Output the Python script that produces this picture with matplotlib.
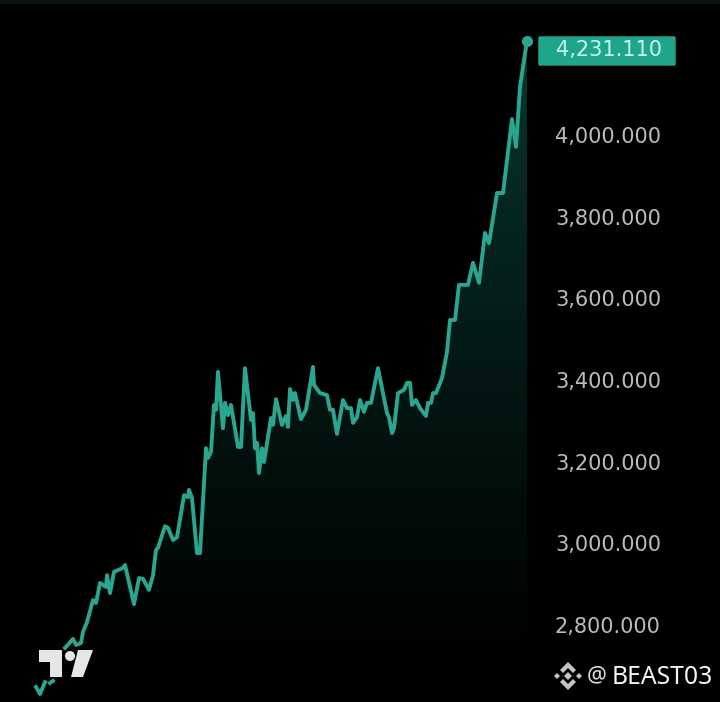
import numpy as np
import matplotlib
matplotlib.use("Agg")
import matplotlib.pyplot as plt
from matplotlib.patches import FancyBboxPatch, Polygon, Ellipse, Rectangle

nan = float("nan")

bars = [36, 40, 45, 47, 50, 53, 58, 65, 67, 73, 76, 81, 83, 87, 93, 96, 100, 106, 107, 110,
        114, 123, 125, 134, 139, 143, 149, 153, 156, 158, 165, 168, 173, 177, 184, 188, 189, 192,
        197, 200, 206, 208, 211, 214, 216, 218, 223, 225, 228, 231, 238, 241, 245, 251, 253, 255,
        257, 259, 262, 264, 271, 273, 276, 282, 286, 288, 290, 293, 295, 301, 306, 313, 314, 320,
        327, 330, 333, 337, 343, 347, 351, 353, 357, 360, 364, 367, 371, 378, 387, 389, 392, 394,
        398, 404, 407, 410, 412, 416, 420, 426, 428, 431, 433, 436, 442, 447, 450, 455, 459, 468,
        473, 479, 485, 489, 497, 503, 512, 516, 520, 527]
prices = [2648, 2631, 2660, nan, 2658, 2663, nan, 2744, 2749, 2766, 2751, 2756, 2783, 2807, 2861, 2854, 2903, 2893, 2922, 2878,
          2930, 2940, 2947, 2851, 2915, 2913, 2886, 2922, 2984, 2989, 3042, 3038, 3008, 3015, 3118, 3113, 3131, 3111,
          2976, 2976, 3233, 3209, 3224, 3339, 3327, 3420, 3282, 3344, 3314, 3339, 3236, 3236, 3429, 3302, 3319, 3233,
          3246, 3172, 3233, 3199, 3307, 3290, 3353, 3290, 3312, 3285, 3378, 3351, 3368, 3304, 3327, 3432, 3388, 3368,
          3363, 3327, 3327, 3268, 3351, 3331, 3331, 3295, 3309, 3351, 3322, 3344, 3344, 3429, 3319, 3309, 3270, 3282,
          3368, 3376, 3393, 3393, 3339, 3351, 3331, 3312, 3344, 3344, 3368, 3368, 3405, 3469, 3547, 3547, 3633, 3633,
          3687, 3638, 3760, 3735, 3858, 3858, 4039, 3971, 4118, 4231.11]
y_ticks = [2800, 3000, 3200, 3400, 3600, 3800, 4000]
y_tick_labels = ["2,800.000", "3,000.000", "3,200.000", "3,400.000", "3,600.000", "3,800.000", "4,000.000"]
last_label = "4,231.110"

W, H = 720, 702
LINE = "#2aa690"

fig = plt.figure(figsize=(W / 100, H / 100), dpi=100, facecolor="black")
ax = fig.add_axes([0, 0, 548 / W, 1], facecolor="black")
ax.set_xlim(0, 548)
ax.set_ylim(2611.4, 4330.6)

x = np.array(bars, dtype=float)
y = np.array(prices, dtype=float)

# gradient under the line, clipped to the area
rows = 256
grad = np.zeros((rows, 1, 4))
grad[:, 0, 0] = 0.10
grad[:, 0, 1] = 0.72
grad[:, 0, 2] = 0.60
grad[:, 0, 3] = np.linspace(0.36, 0.0, rows) ** 1.2 * 1.1
img = ax.imshow(grad, extent=[0, 548, 2611.4, 4330.6], aspect="auto", origin="upper", zorder=1)
ok = ~np.isnan(y)
clip = Polygon(np.r_[np.c_[x[ok], y[ok]], [[x[-1], 2611.4], [x[ok][0], 2611.4]]], transform=ax.transData)
img.set_clip_path(clip)

ax.plot(x, y, color=LINE, lw=2.8, solid_joinstyle="round", zorder=3)
ax.plot(x[-1], y[-1], "o", color=LINE, ms=8, mew=0, zorder=4)

ax.yaxis.tick_right()
ax.set_yticks(y_ticks)
ax.set_yticklabels(y_tick_labels, color="#bcbcbc", fontsize=15, family="DejaVu Sans")
ax.tick_params(axis="y", length=0, pad=5)
ax.set_xticks([])
for s in ax.spines.values():
    s.set_visible(False)


def fx(px):
    return px / W


def fy(py):
    return 1 - py / H


def px_poly(pts, color):
    fig.add_artist(Polygon([(fx(a), fy(b)) for a, b in pts], closed=True, color=color, lw=0, zorder=6))


# cropped strip at the top edge
fig.add_artist(Rectangle((0, fy(4)), 1, 4 / H, color="#071312", lw=0, zorder=5))

# last price label
fig.add_artist(FancyBboxPatch((fx(539), fy(65)), 136 / W, 28 / H, boxstyle="round,pad=0.001,rounding_size=0.002",
                              fc="#1fa58a", ec="none", zorder=6))
fig.text(fx(556), fy(50.5), last_label, color="#c8f6ea", fontsize=15, family="DejaVu Sans", va="center", ha="left", zorder=7)

# tradingview mark
LOGO = "#e6e6e6"
px_poly([(39, 650), (62, 650), (62, 677), (50, 677), (50, 662), (39, 662)], LOGO)
px_poly([(78, 650), (93, 650), (83, 677), (71, 677)], LOGO)
fig.add_artist(Ellipse((fx(70), fy(656)), 10 / W, 10 / H, color=LOGO, lw=0, zorder=6))

# binance mark and handle
MARK = "#c4c4c4"
cx, cy = 568, 676
px_poly([(cx, cy - 4), (cx + 4, cy), (cx, cy + 4), (cx - 4, cy)], MARK)
px_poly([(cx - 11, cy - 3), (cx - 8, cy), (cx - 11, cy + 3), (cx - 14, cy)], MARK)
px_poly([(cx + 11, cy - 3), (cx + 14, cy), (cx + 11, cy + 3), (cx + 8, cy)], MARK)
px_poly([(cx, cy - 14), (cx + 8, cy - 6), (cx + 5, cy - 3), (cx, cy - 8), (cx - 5, cy - 3), (cx - 8, cy - 6)], MARK)
px_poly([(cx, cy + 14), (cx + 8, cy + 6), (cx + 5, cy + 3), (cx, cy + 8), (cx - 5, cy + 3), (cx - 8, cy + 6)], MARK)
fig.text(fx(587), fy(676), "@", color="#dcdcdc", fontsize=16, family="Noto Sans", va="center", ha="left", zorder=7)
fig.text(fx(612), fy(677), "BEAST03", color="#f4f4f4", fontsize=17.8, family="Noto Sans", va="center", ha="left", zorder=7)

fig.savefig("out.png", dpi=100, facecolor="black")
